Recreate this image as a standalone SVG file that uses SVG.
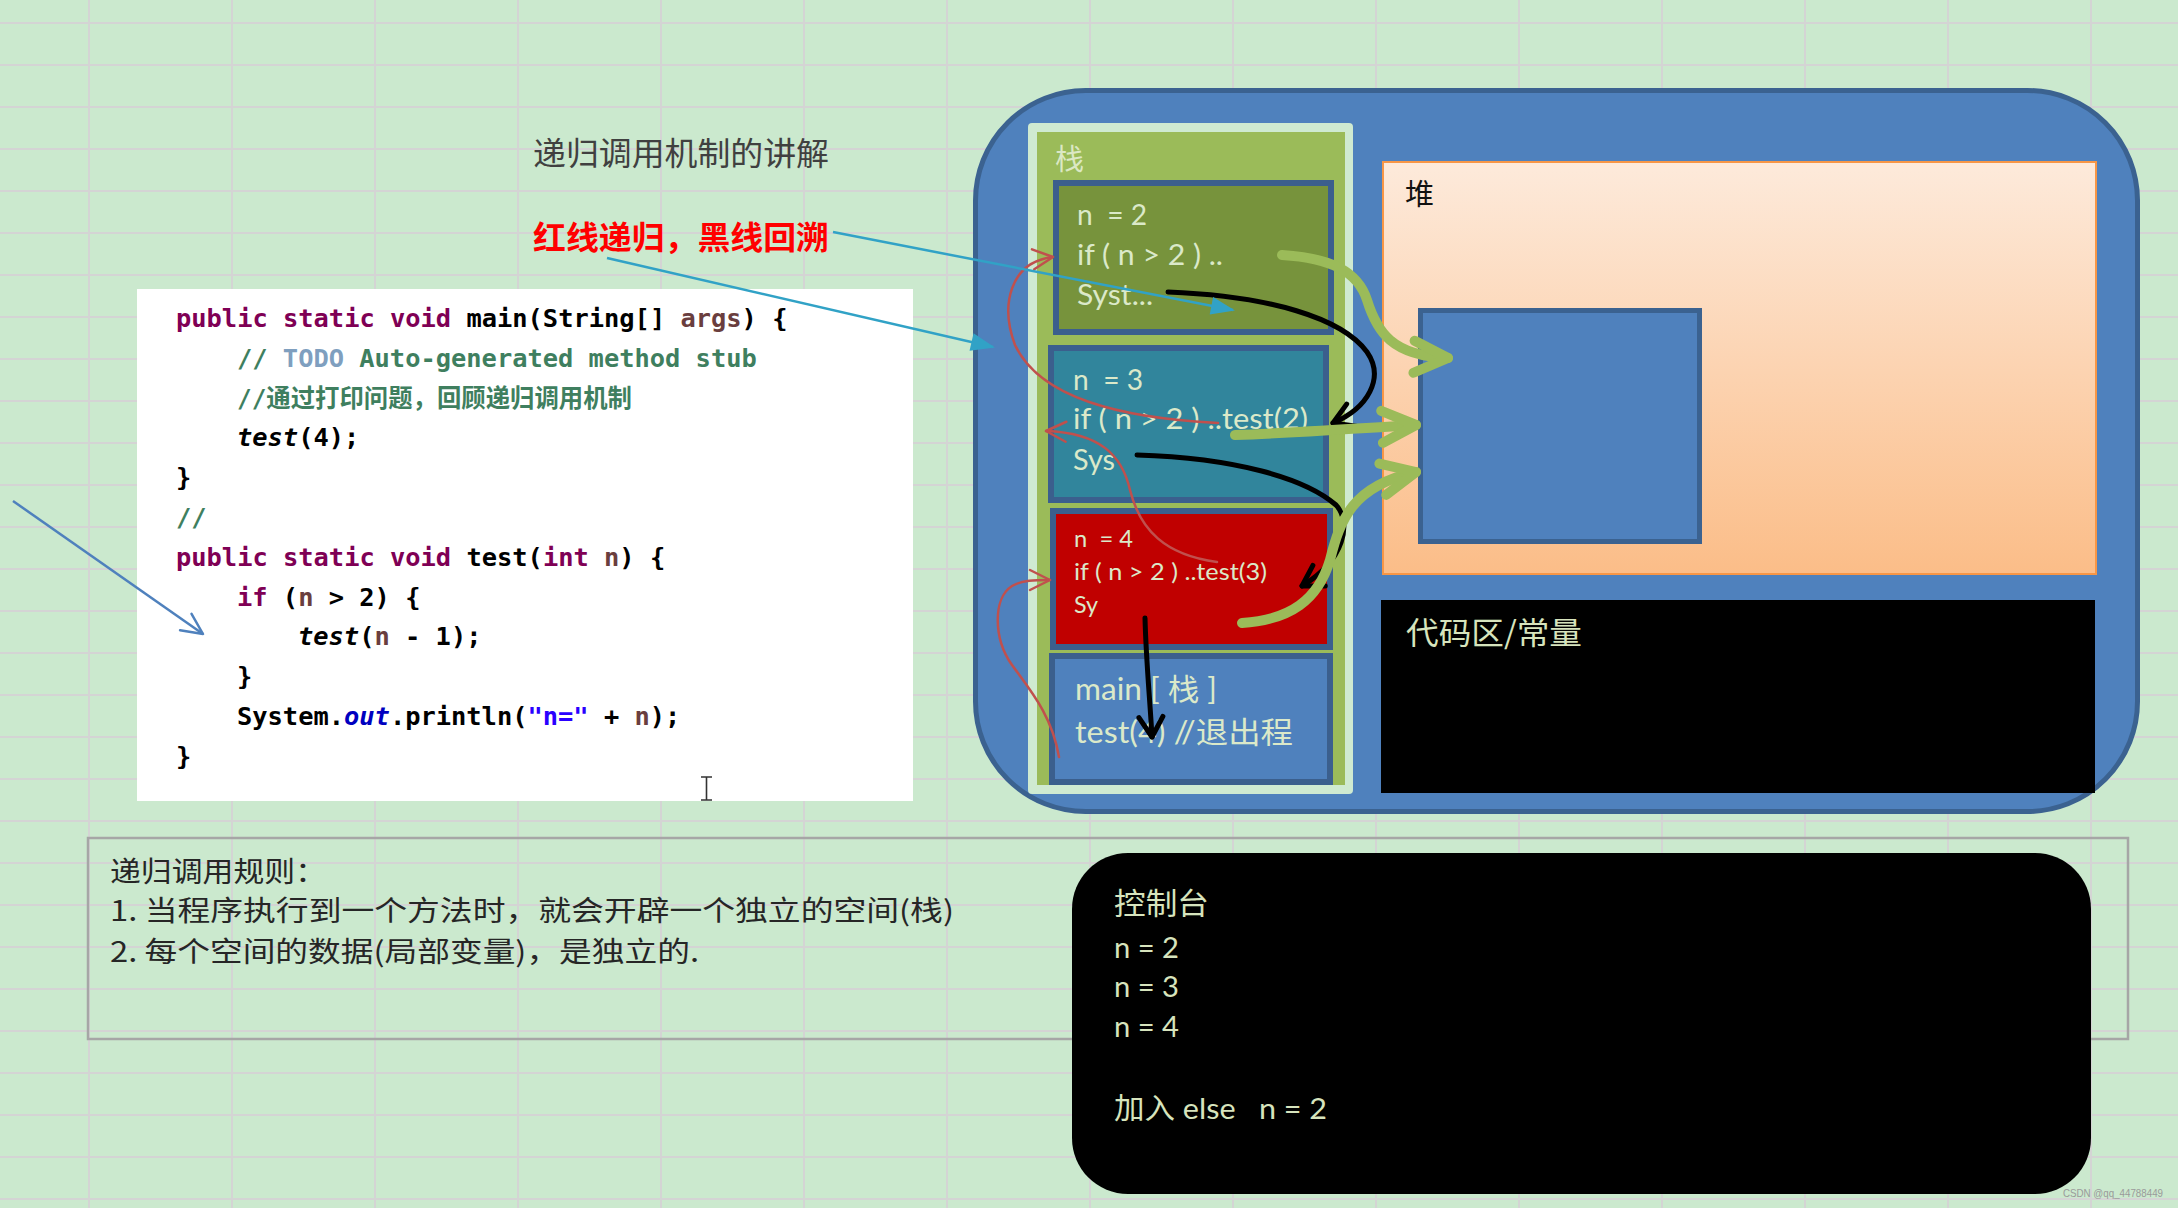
<svg xmlns="http://www.w3.org/2000/svg" width="2178" height="1208" viewBox="0 0 2178 1208">
<style>
.code{font-family:"DejaVu Sans Mono","Noto Sans CJK SC",monospace;font-size:25.4px;font-weight:bold;fill:#000}
.kw{fill:#7f0055}
.var{fill:#6a3e3e}
.cm{fill:#3f7f5f}
.todo{fill:#7f9fbf}
.str{fill:#2a00ff}
.it{font-style:italic}
.fld{fill:#0000c0;font-style:italic}
.cjk{font-family:"Noto Sans CJK SC",sans-serif}
.frame-t{font-family:Lato,"Noto Sans CJK SC",sans-serif;fill:#dbe9c9;white-space:pre}
.pale{fill:#d7e4bd}
.frame{stroke:#3b5f8d;stroke-width:6}
.red{fill:none;stroke:#c0504d;stroke-width:2.5;stroke-linecap:round}
.blk{fill:none;stroke:#000;stroke-width:5;stroke-linecap:round}
.grn{fill:none;stroke:#9bbb59;stroke-width:10;stroke-linecap:round}
.teal{fill:none;stroke:#31a2c6;stroke-width:2.5}
</style>
<defs>
<pattern id="grid" patternUnits="userSpaceOnUse" x="88" y="22" width="143" height="42">
<rect x="0" y="0" width="143" height="42" fill="#cbe9ce"/>
<rect x="0" y="0" width="2" height="42" fill="#d4d4d4"/>
<rect x="0" y="0" width="143" height="2" fill="#d4d4d4"/>
</pattern>
<linearGradient id="heapGrad" x1="0" y1="0" x2="0" y2="1">
<stop offset="0" stop-color="#fdeadb"/>
<stop offset="1" stop-color="#fbbd88"/>
</linearGradient>
<marker id="mRed" markerUnits="userSpaceOnUse" markerWidth="26" markerHeight="24" refX="21" refY="11" orient="auto" overflow="visible">
<path d="M1,1 L21,11 L1,21" fill="none" stroke="#c0504d" stroke-width="2.5" stroke-linecap="round" stroke-linejoin="round"/>
</marker>
<marker id="mBlk" markerUnits="userSpaceOnUse" markerWidth="26" markerHeight="28" refX="21" refY="13" orient="auto" overflow="visible">
<path d="M1,1 L21,13 L1,25" fill="none" stroke="#000" stroke-width="5" stroke-linecap="round" stroke-linejoin="round"/>
</marker>
<marker id="mGrn" markerUnits="userSpaceOnUse" markerWidth="40" markerHeight="38" refX="35" refY="17" orient="auto" overflow="visible">
<path d="M1,1 L35,17 L1,33" fill="none" stroke="#9bbb59" stroke-width="10" stroke-linecap="round" stroke-linejoin="round"/>
</marker>
<marker id="mTeal" markerUnits="userSpaceOnUse" markerWidth="24" markerHeight="18" refX="22" refY="9" orient="auto" overflow="visible">
<path d="M0,0 L24,9 L0,18 z" fill="#31a2c6"/>
</marker>
<marker id="mBlue" markerUnits="userSpaceOnUse" markerWidth="26" markerHeight="24" refX="22" refY="11" orient="auto" overflow="visible">
<path d="M1,1 L22,11 L1,21" fill="none" stroke="#4f81bd" stroke-width="2.5" stroke-linecap="round" stroke-linejoin="round"/>
</marker>
</defs>

<rect id="background" x="0" y="0" width="2178" height="1208" fill="url(#grid)"/>

<g id="title">
<text x="533" y="165" class="cjk" font-size="32" fill="#404040" textLength="296" lengthAdjust="spacingAndGlyphs">递归调用机制的讲解</text>
<text x="533" y="249" class="cjk" font-size="32" font-weight="bold" fill="#ff0000" textLength="296" lengthAdjust="spacingAndGlyphs">红线递归，黑线回溯</text>
</g>

<g id="code">
<rect x="137" y="289" width="776" height="512" fill="#ffffff"/>
<text class="code" x="176" y="327"><tspan class="kw">public static void</tspan> main(String[] <tspan class="var">args</tspan>) {</text>
<text class="code" x="237" y="367"><tspan class="cm">// </tspan><tspan class="todo">TODO</tspan><tspan class="cm"> Auto-generated method stub</tspan></text>
<text class="code cm" x="237" y="407" textLength="395" lengthAdjust="spacingAndGlyphs">//通过打印问题，回顾递归调用机制</text>
<text class="code" x="237" y="446"><tspan class="it">test</tspan>(4);</text>
<text class="code" x="176" y="486">}</text>
<text class="code cm" x="176" y="526">//</text>
<text class="code" x="176" y="566"><tspan class="kw">public static void</tspan> test(<tspan class="kw">int</tspan> <tspan class="var">n</tspan>) {</text>
<text class="code" x="237" y="606"><tspan class="kw">if</tspan> (<tspan class="var">n</tspan> &gt; 2) {</text>
<text class="code" x="298" y="645"><tspan class="it">test</tspan>(<tspan class="var">n</tspan> - 1);</text>
<text class="code" x="237" y="685">}</text>
<text class="code" x="237" y="725">System.<tspan class="fld">out</tspan>.println(<tspan class="str">"n="</tspan> + <tspan class="var">n</tspan>);</text>
<text class="code" x="176" y="765">}</text>
<path d="M701,777 H712 M706.5,777 V800 M701,800 H712" stroke="#333" stroke-width="1.6" fill="none"/>
</g>

<g id="memory">
<rect x="975.5" y="90.5" width="1162" height="721" rx="110" fill="#4f81bd" stroke="#3b6290" stroke-width="5"/>
</g>

<g id="stack">
<rect x="1028" y="123" width="325" height="671" rx="4" fill="#cfead1"/>
<rect x="1037" y="132" width="308" height="653" fill="#9bbb59"/>
<text x="1055" y="170" class="cjk" font-size="29" fill="#dbe8c4">栈</text>
</g>

<g id="frame-n2">
<rect class="frame" x="1056" y="183" width="275" height="149" fill="#77933c"/>
<text class="frame-t" x="1077" y="225" font-size="29" textLength="70" lengthAdjust="spacingAndGlyphs">n  = 2</text>
<text class="frame-t" x="1077" y="265" font-size="29" textLength="146" lengthAdjust="spacingAndGlyphs">if ( n &gt; 2 ) ..</text>
<text class="frame-t" x="1077" y="305" font-size="29" textLength="76" lengthAdjust="spacingAndGlyphs">Syst...</text>
</g>

<g id="frame-n3">
<rect class="frame" x="1051" y="348" width="275" height="152" fill="#31859c"/>
<text class="frame-t" x="1073" y="390" font-size="29" textLength="70" lengthAdjust="spacingAndGlyphs">n  = 3</text>
<text class="frame-t" x="1073" y="429" font-size="29" textLength="235" lengthAdjust="spacingAndGlyphs">if ( n &gt; 2 ) ..test(2)</text>
<text class="frame-t" x="1073" y="470" font-size="29" textLength="42" lengthAdjust="spacingAndGlyphs">Sys</text>
</g>

<g id="frame-n4">
<rect class="frame" x="1053" y="511" width="277" height="136" fill="#c00000"/>
<text class="frame-t" x="1074" y="547" font-size="24" textLength="59" lengthAdjust="spacingAndGlyphs">n  = 4</text>
<text class="frame-t" x="1074" y="580" font-size="24" textLength="193" lengthAdjust="spacingAndGlyphs">if ( n &gt; 2 ) ..test(3)</text>
<text class="frame-t" x="1074" y="613" font-size="24" textLength="24" lengthAdjust="spacingAndGlyphs">Sy</text>
</g>

<g id="frame-main">
<rect class="frame" x="1052" y="656" width="278" height="126" fill="#4f81bd"/>
<text class="frame-t" x="1075" y="700" font-size="30" textLength="142" lengthAdjust="spacingAndGlyphs">main [ 栈 ]</text>
<text class="frame-t" x="1075" y="743" font-size="30" textLength="218" lengthAdjust="spacingAndGlyphs">test(4) //退出程</text>
</g>

<g id="heap">
<rect x="1383" y="162" width="713" height="412" fill="url(#heapGrad)" stroke="#f79646" stroke-width="2"/>
<text x="1405" y="205" class="cjk" font-size="29" fill="#111">堆</text>
<rect x="1420.5" y="310.5" width="279" height="231" fill="#4f81bd" stroke="#3b6290" stroke-width="5"/>
</g>

<g id="code-area">
<rect x="1381" y="600" width="714" height="193" fill="#000"/>
<text x="1406" y="644" class="cjk pale" font-size="31" textLength="176" lengthAdjust="spacingAndGlyphs">代码区/常量</text>
</g>

<g id="rules">
<rect x="88" y="838" width="2040" height="201" fill="none" stroke="#a6a6a6" stroke-width="2.5"/>
<text x="110" y="882" class="cjk" font-size="28" fill="#262626" textLength="216" lengthAdjust="spacingAndGlyphs">递归调用规则：</text>
<text x="110" y="921" class="cjk" font-size="28" fill="#262626" textLength="844" lengthAdjust="spacingAndGlyphs">1. 当程序执行到一个方法时，就会开辟一个独立的空间(栈)</text>
<text x="110" y="962" class="cjk" font-size="28" fill="#262626" textLength="589" lengthAdjust="spacingAndGlyphs">2. 每个空间的数据(局部变量)，是独立的.</text>
</g>

<g id="console">
<rect x="1072" y="853" width="1019" height="341" rx="56" fill="#000"/>
<text x="1114" y="914" class="cjk pale" font-size="30" textLength="95" lengthAdjust="spacingAndGlyphs">控制台</text>
<text x="1114" y="958" class="frame-t pale" font-size="29" textLength="65" lengthAdjust="spacingAndGlyphs">n = 2</text>
<text x="1114" y="997" class="frame-t pale" font-size="29" textLength="65" lengthAdjust="spacingAndGlyphs">n = 3</text>
<text x="1114" y="1037" class="frame-t pale" font-size="29" textLength="65" lengthAdjust="spacingAndGlyphs">n = 4</text>
<text x="1114" y="1119" class="frame-t pale" font-size="29" textLength="213" lengthAdjust="spacingAndGlyphs">加入 else   n = 2</text>
</g>

<g id="connectors">
<path class="blk" d="M1168,292 C1270,296 1342,318 1367,352 C1385,378 1368,408 1333,423" marker-end="url(#mBlk)"/>
<path class="blk" d="M1137,455 C1235,458 1305,478 1336,505 C1352,522 1345,560 1302,586" marker-end="url(#mBlk)"/>
<path class="blk" d="M1145,618 C1146,660 1150,700 1152,737" marker-end="url(#mBlk)"/>
<path class="grn" d="M1282,255 C1332,258 1358,272 1367,300 C1377,332 1392,356 1448,358" marker-end="url(#mGrn)"/>
<path class="grn" d="M1235,435 C1300,433 1360,428 1416,425" marker-end="url(#mGrn)"/>
<path class="grn" d="M1242,623 C1290,620 1318,600 1330,560 C1340,520 1352,486 1416,472" marker-end="url(#mGrn)"/>
<path class="red" d="M1218,423 C1120,418 1040,398 1015,345 C1000,305 1010,262 1053,257" marker-end="url(#mRed)"/>
<path class="red" d="M1217,562 C1165,555 1140,530 1130,490 C1122,455 1100,433 1046,431" marker-end="url(#mRed)"/>
<path class="red" d="M1059,757 C1052,715 1030,690 1012,665 C993,638 993,598 1012,586 C1022,580 1035,580 1050,580" marker-end="url(#mRed)"/>
<path class="teal" d="M833,232 L1233,310" marker-end="url(#mTeal)"/>
<path class="teal" d="M607,258 L993,347" marker-end="url(#mTeal)"/>
<path d="M13,501 L203,634" fill="none" stroke="#4f81bd" stroke-width="2.5" marker-end="url(#mBlue)"/>
</g>

<text x="2063" y="1197" font-family="Liberation Sans,sans-serif" font-size="10.5" fill="#9a9a9a" textLength="100" lengthAdjust="spacingAndGlyphs">CSDN @qq_44788449</text>
</svg>
